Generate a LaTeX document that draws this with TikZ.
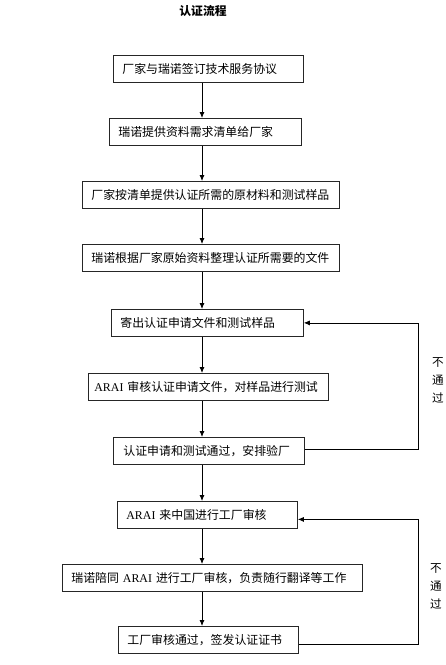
\documentclass[tikz,border=0pt]{standalone}
\usepackage{fontspec}
\setmainfont{Noto Sans CJK SC}
\newfontfamily\lat{Liberation Serif}
\usetikzlibrary{arrows.meta}
\begin{document}
\begin{tikzpicture}[x=1pt,y=-1pt,
  box/.style={draw=black!85, line width=0.8pt, anchor=north west, inner xsep=9pt, inner ysep=0pt,
    minimum height=27pt, align=left, font=\fontsize{11.9}{14}\selectfont},
  flow/.style={draw=black, line width=0.8pt, -{Latex[length=6pt,width=5pt]}},
  note/.style={font=\fontsize{11.6}{18}\selectfont, align=center}]
\useasboundingbox (0,0) rectangle (446,665);
\node[font=\fontsize{11.8}{14}\selectfont\bfseries] (title) at (203,11) {认证流程};
\node[box, text width=172pt] (b1) at (113,55) {厂家与瑞诺签订技术服务协议};
\node[box, text width=174pt] (b2) at (109,118) {瑞诺提供资料需求清单给厂家};
\node[box, text width=239pt] (b3) at (82,181) {厂家按清单提供认证所需的原材料和测试样品};
\node[box, text width=239pt] (b4) at (82,244) {瑞诺根据厂家原始资料整理认证所需要的文件};
\node[box, text width=174pt] (b5) at (111,309) {寄出认证申请文件和测试样品};
\node[box, inner xsep=6pt, text width=228pt] (b6) at (88,373) {{\lat ARAI} 审核认证申请文件，对样品进行测试};
\node[box, inner xsep=10pt, text width=171pt] (b7) at (113,437) {认证申请和测试通过，安排验厂};
\node[box, text width=162pt] (b8) at (117,501) {{\lat ARAI} 来中国进行工厂审核};
\node[box, text width=282pt] (b9) at (62,564) {瑞诺陪同 {\lat ARAI} 进行工厂审核，负责随行翻译等工作};
\node[box, text width=162pt] (b10) at (118,626) {工厂审核通过，签发认证证书};
\coordinate (ax) at (202,0);
\coordinate (lx) at (418,0);
\foreach \a/\b in {b1/b2,b2/b3,b3/b4,b4/b5,b5/b6,b6/b7,b7/b8,b8/b9,b9/b10}
  \draw[flow] (\a.south -| ax) -- (\b.north -| ax);
\draw[flow] ([yshift=2pt]b7.east) -| ([yshift=2pt]b7.east -| lx) |- (b5.east);
\draw[flow] ([yshift=-4.5pt]b10.east) -| ([yshift=-4.5pt]b10.east -| lx) |- ([yshift=-4.5pt]b8.east);
\node[note] (n1) at (438,380) {不\\通\\过};
\node[note] (n2) at (436,586) {不\\通\\过};
\end{tikzpicture}
\end{document}
